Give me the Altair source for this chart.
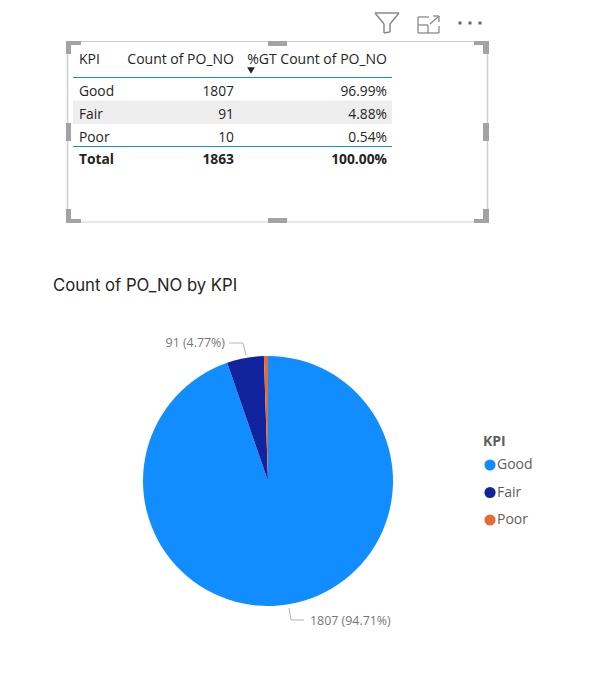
import altair as alt
import pandas as pd

kpi = ["Good", "Fair", "Poor"]
counts = [1807, 91, 10]
gt_pct = ["96.99%", "4.88%", "0.54%"]
pie_pct = ["94.71%", "4.77%", "0.52%"]
headers = ["KPI", "Count of PO_NO", "%GT Count of PO_NO"]
totals = ["Total", "1863", "100.00%"]
title = "Count of PO_NO by KPI"
colors = ["#118DFF", "#12239E", "#E66C37"]

OFF = 8
UI = "Open Sans"
layers = []


def text(s, x, y, align="left", bold=False, color="#252423", size=13.8, font=UI):
    layers.append(
        alt.Chart(pd.DataFrame({"t": [s]}))
        .mark_text(align=align, baseline="alphabetic", fontWeight="bold" if bold else "normal",
                   color=color, fontSize=size, font=font)
        .encode(x=alt.value(x - OFF), y=alt.value(y - OFF), text="t:N")
    )


def seg(x1, y1, x2, y2, color="#a6a6a6", w=1.0):
    layers.append(
        alt.Chart(pd.DataFrame({"a": [0]}))
        .mark_rule(color=color, strokeWidth=w)
        .encode(x=alt.value(x1 - OFF), x2=alt.value(x2 - OFF), y=alt.value(y1 - OFF), y2=alt.value(y2 - OFF))
    )


def rect(x1, y1, x2, y2, color):
    layers.append(
        alt.Chart(pd.DataFrame({"a": [0]}))
        .mark_rect(color=color)
        .encode(x=alt.value(x1 - OFF), x2=alt.value(x2 - OFF), y=alt.value(y1 - OFF), y2=alt.value(y2 - OFF))
    )


# Selection frame
FR = "#cfcfcf"
seg(67, 41.5, 488, 41.5, FR, 1.2)
seg(67, 222, 488, 222, FR, 1.2)
seg(67.5, 41, 67.5, 222, FR, 1.5)
seg(487.5, 41, 487.5, 222, FR, 1.5)
H = "#a3a3a3"
for a in [(66, 41, 81, 45), (66, 41, 71, 54), (474, 41, 489, 45), (483, 41, 489, 54),
          (66, 219, 81, 223), (66, 209, 71, 223), (474, 219, 489, 223), (483, 209, 489, 223),
          (268, 41, 287, 46), (268, 218, 287, 223), (66, 123, 71, 141), (483, 123, 489, 141)]:
    rect(*a, H)

# Toolbar icons
IC = "#8a8a8a"
for a in [(375, 13, 399, 13), (375, 13, 384, 24), (399, 13, 390, 24), (384, 24, 384, 33),
          (390, 24, 390, 32), (384, 33, 390, 32)]:
    seg(*a, IC, 1.5)
for a in [(418, 24, 418, 33), (418, 33, 439, 33), (439, 33, 439, 26), (418, 17, 429, 17),
          (418, 17, 418, 24), (418, 25, 428, 25), (428, 25, 428, 33), (430, 24, 439, 16),
          (433, 16, 439, 16), (439, 16, 439, 22)]:
    seg(*a, IC, 1.3)
for cx in (460, 470, 480):
    rect(cx - 1.5, 21.5, cx + 1.5, 24.5, "#666666")

# Table
rect(73, 100.5, 392, 124, "#eeeeee")
seg(73, 77.5, 392, 77.5, "#118DFF", 1)
seg(73, 146.5, 392, 146.5, "#118DFF", 1)
layers.append(
    alt.Chart(pd.DataFrame({"a": [0]}))
    .mark_point(shape="triangle-down", filled=True, color="#252423", size=60, opacity=1)
    .encode(x=alt.value(251 - OFF), y=alt.value(70.5 - OFF))
)
text(headers[0], 79, 64, size=14)
text(headers[1], 234, 64, "right", size=14)
text(headers[2], 387, 64, "right", size=14)
for s, y, c, p in zip(kpi, (96, 119, 142), counts, gt_pct):
    text(s, 79, y)
    text(str(c), 234, y, "right")
    text(p, 387, y, "right")
text(totals[0], 79, 164, bold=True)
text(totals[1], 234, 164, "right", True)
text(totals[2], 387, 164, "right", True)

# Pie title and leader lines
text(title, 53, 291, size=16.7, font="Inter")
LL = "#b5b5b5"
seg(229, 343, 243, 343, LL)
seg(243, 343, 246, 355, LL)
seg(289, 608, 291, 620, LL)
seg(291, 620, 304, 620, LL)
text(f"{counts[1]} ({pie_pct[1]})", 225, 347, "right", color="#777777", size=12.4)
text(f"{counts[0]} ({pie_pct[0]})", 310, 625, color="#777777", size=12.4)

# Pie
pie_df = pd.DataFrame({"KPI": kpi, "count": counts, "ord": [0, 1, 2]})
pie = (
    alt.Chart(pie_df)
    .mark_arc(outerRadius=125, innerRadius=0)
    .encode(
        theta=alt.Theta("count:Q", stack=True),
        order=alt.Order("ord:Q"),
        x=alt.value(268 - OFF),
        y=alt.value(481 - OFF),
        color=alt.Color(
            "KPI:N",
            sort=kpi,
            scale=alt.Scale(domain=kpi, range=colors),
            legend=alt.Legend(
                orient="none", legendX=483 - OFF, legendY=435 - OFF, title="KPI",
                symbolType="circle", symbolSize=125, symbolStrokeWidth=0,
                titleFont=UI, labelFont=UI, titleFontSize=14, labelFontSize=14,
                titleColor="#605E5C", labelColor="#605E5C", titleFontWeight="bold",
                rowPadding=13.5, labelOffset=0, titlePadding=9,
            ),
        ),
    )
)
layers.append(pie)

chart = (
    alt.layer(*layers)
    .properties(width=584, height=666, padding=0, autosize=alt.AutoSizeParams(type="none"),
                background="white")
    .configure_view(stroke=None)
)
chart.save("out.html", embed_options={"renderer": "svg", "actions": False})
